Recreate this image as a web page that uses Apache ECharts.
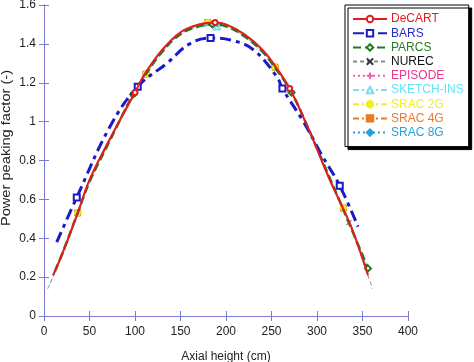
<!DOCTYPE html>
<html><head><meta charset="utf-8">
<script src="https://cdn.jsdelivr.net/npm/echarts@6/dist/echarts.min.js"></script>
<style>html,body{margin:0;padding:0;background:#fff}#c{width:474px;height:362px}</style>
</head><body><div id="c"></div>
<script>
// ---- data ----
const xTicks = [0, 50, 100, 150, 200, 250, 300, 350, 400];
const yTicks = [0, 0.2, 0.4, 0.6, 0.8, 1, 1.2, 1.4, 1.6];
const xTitle = 'Axial height (cm)';
const yTitle = 'Power peaking factor (-)';
const seriesNames = ['DeCART','BARS','PARCS','NUREC','EPISODE','SKETCH-INS','SRAC 2G','SRAC 4G','SRAC 8G'];

const decartX = [10,20,37,50,70,100,110,130,150,170,188,200,220,240,255,270,290,314,329,340,356];
const decartY = [0.21,0.32,0.53,0.70,0.89,1.15,1.24,1.37,1.46,1.50,1.51,1.50,1.45,1.37,1.28,1.17,0.97,0.70,0.55,0.43,0.21];
const decartMk = [100,188,270];

const barsX = [14,36,72,103,135,160,183,205,230,256,262,285,305,325,345];
const barsY = [0.38,0.61,0.97,1.18,1.30,1.40,1.43,1.42,1.37,1.23,1.17,1.00,0.83,0.67,0.46];
const barsMk = [36,103,183,262,325];

const parcsX = [12,20,37,50,70,98,110,130,150,170,185,200,220,240,255,272,290,314,335,356];
const parcsY = [0.23,0.32,0.53,0.69,0.88,1.14,1.23,1.36,1.45,1.49,1.50,1.49,1.44,1.36,1.27,1.15,0.97,0.71,0.48,0.245];
const parcsMk = [98,185,272,356];

const nurecX = [4,20,37,50,70,98,110,130,150,170,188,200,220,240,255,272,290,314,335,361];
const nurecY = [0.14,0.31,0.52,0.69,0.88,1.14,1.23,1.36,1.45,1.49,1.50,1.49,1.44,1.36,1.27,1.15,0.97,0.71,0.48,0.14];
const nurecMk = [98,188,335];

const episodeX = [10,20,37,50,70,98,110,130,150,170,190,200,220,240,255,272,290,314,335,356];
const episodeY = [0.21,0.32,0.53,0.70,0.89,1.15,1.24,1.37,1.46,1.50,1.51,1.50,1.45,1.37,1.28,1.16,0.97,0.71,0.49,0.23];
const episodeMk = [98,190,272];

const sketchX = [6,20,37,50,70,98,110,130,150,170,190,200,220,240,255,272,290,314,335,358];
const sketchY = [0.16,0.31,0.52,0.69,0.88,1.14,1.23,1.36,1.45,1.49,1.49,1.49,1.44,1.36,1.27,1.15,0.97,0.71,0.48,0.22];
const sketchMk = [190];

const srac2X = [10,20,37,50,70,100,112,130,150,170,180,200,220,240,254,270,290,314,329,340,356];
const srac2Y = [0.21,0.32,0.53,0.70,0.89,1.16,1.245,1.37,1.46,1.50,1.51,1.50,1.45,1.37,1.28,1.17,0.97,0.70,0.555,0.43,0.22];
const srac4Y = [0.21,0.32,0.53,0.70,0.89,1.16,1.245,1.37,1.46,1.50,1.51,1.50,1.45,1.37,1.28,1.17,0.97,0.70,0.555,0.43,0.22];
const srac8Y = [0.21,0.32,0.53,0.70,0.89,1.16,1.245,1.37,1.46,1.50,1.51,1.50,1.45,1.37,1.28,1.17,0.97,0.70,0.555,0.43,0.22];
const sracMk = [37,112,180,254,329];

// ---- build ----
function build(xs, ys, mk) {
  return xs.map((x, i) => mk.indexOf(x) >= 0 ? [x, ys[i]] : {value: [x, ys[i]], symbol: 'none'});
}
const crossPath = 'path://M0,0L10,10M10,0L0,10';
const plusPath = 'path://M5,0L5,10M0,5L10,5';
const axisCol = '#7b7bd6';

const styles = [
  {color:'#e01e1e', width:2, type:'solid', symbol:'emptyCircle', size:5},
  {color:'#1a1ac8', width:3, type:[11,5,4,5], symbol:'emptyRect', size:6},
  {color:'#1f7a1f', width:2.5, type:[8,4], symbol:'emptyDiamond', size:6},
  {color:'#888888', width:1, type:[4,3], symbol:crossPath, size:5, mcol:'#333'},
  {color:'#ee66aa', width:1, type:[2,3], symbol:plusPath, size:6},
  {color:'#7fdcef', width:1, type:[6,3,2,3], symbol:'emptyTriangle', size:6},
  {color:'#eeee22', width:1, type:[6,3,2,3], symbol:'circle', size:6},
  {color:'#ee7722', width:1, type:[6,3,2,3], symbol:'rect', size:6},
  {color:'#2a9fdc', width:1, type:[2,3], symbol:'diamond', size:7}
];
const textCols = ['#e01e1e','#2a2ac8','#2a7a2a','#111111','#e8388f','#66e4f4','#f0f022','#ee7733','#2aa0dd'];
const datas = [
  build(decartX, decartY, decartMk),
  build(barsX, barsY, barsMk),
  build(parcsX, parcsY, parcsMk),
  build(nurecX, nurecY, nurecMk),
  build(episodeX, episodeY, episodeMk),
  build(sketchX, sketchY, sketchMk),
  build(srac2X, srac2Y, sracMk),
  build(srac2X, srac4Y, sracMk),
  build(srac2X, srac8Y, sracMk)
];
const order = [8,7,6,5,4,3,2,1,0];
const series = order.map(i => {
  const s = styles[i];
  const isPath = typeof s.symbol === 'string' && s.symbol.indexOf('path://') === 0;
  return {
    name: seriesNames[i], type: 'line', smooth: 0.4, data: datas[i],
    symbol: s.symbol, symbolSize: s.size, showAllSymbol: true,
    lineStyle: {color: s.color, width: s.width, type: s.type},
    itemStyle: isPath ? {color: 'rgba(0,0,0,0)', borderColor: s.mcol || s.color, borderWidth: 1}
                      : {color: s.color, borderColor: s.color, borderWidth: 1},
    emphasis: {disabled: true}, animation: false, z: 2 + (8 - i)
  };
});

const fontFam = '"Liberation Sans", Arial, sans-serif';
const chart = echarts.init(document.getElementById('c'), null, {renderer: 'canvas'});
const axisBase = {
  axisLine: {show: true, lineStyle: {color: axisCol, width: 1}},
  axisTick: {show: true, inside: true, length: 5, lineStyle: {color: axisCol}},
  splitLine: {show: false}
};
chart.setOption({
  animation: false,
  backgroundColor: '#fff',
  grid: {left: 44, right: 66, top: 5, bottom: 46, containLabel: false, outerBoundsMode: 'none'},
  xAxis: [
    Object.assign({type: 'value', min: xTicks[0], max: xTicks[xTicks.length-1], interval: xTicks[1]-xTicks[0],
      name: xTitle, nameLocation: 'middle', nameGap: 35,
      nameTextStyle: {fontFamily: fontFam, fontSize: 12, color: '#222'},
      axisLabel: {fontFamily: fontFam, fontSize: 12, color: '#222', margin: 10}}, axisBase),
    Object.assign({type: 'value', position: 'top', min: xTicks[0], max: xTicks[xTicks.length-1], interval: xTicks[1]-xTicks[0],
      axisLabel: {show: false}}, axisBase)
  ],
  yAxis: [
    Object.assign({type: 'value', min: yTicks[0], max: yTicks[yTicks.length-1], interval: 0.2,
      axisLabel: {fontFamily: fontFam, fontSize: 12, color: '#222', margin: 8}}, axisBase),
    Object.assign({type: 'value', position: 'right', min: yTicks[0], max: yTicks[yTicks.length-1], interval: 0.2,
      axisLabel: {show: false}}, axisBase)
  ],
  graphic: [{
    type: 'text', x: 7, y: 148, rotation: Math.PI / 2, scaleX: 1.22,
    style: {text: yTitle, fontFamily: fontFam, fontSize: 12, fill: '#222', align: 'center', verticalAlign: 'middle'}
  }],
  legend: {
    orient: 'vertical', left: 345, top: 5,
    data: seriesNames.map((n, i) => ({name: n, textStyle: {color: textCols[i]}})),
    itemWidth: 34, itemHeight: 8, itemGap: 2.2,
    padding: [8, 5, 8, 7],
    backgroundColor: '#fff', borderColor: '#000', borderWidth: 1, borderRadius: 0,
    shadowColor: '#000', shadowBlur: 0, shadowOffsetX: 3, shadowOffsetY: 3,
    textStyle: {fontFamily: fontFam, fontSize: 12, padding: [0,0,0,-1]},
    selectedMode: false
  },
  series: series
});
</script></body></html>
